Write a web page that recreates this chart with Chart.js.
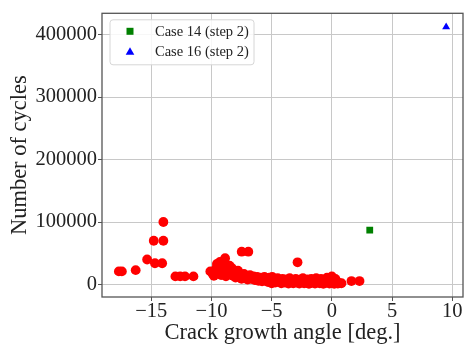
<!DOCTYPE html>
<html>
<head>
<meta charset="utf-8">
<script src="https://cdn.jsdelivr.net/npm/chart.js@4/dist/chart.umd.min.js"></script>
<style>
html,body{margin:0;padding:0;background:#fff;}
#wrap{width:474px;height:356px;}
</style>
</head>
<body>
<div id="wrap"><canvas id="c" width="474" height="356"></canvas></div>
<script>
// ---- data ----
const redAngles = [
 -17.7,-17.45,-16.3,-15.35,-14.8,-14.0,-14.0,-14.7,-14.1,-13.0,-12.6,-12.2,-11.5,-10.1,
 -9.9,-9.8,-9.7,-9.6,-9.55,-9.5,-9.4,-9.35,-9.3,-9.2,-9.15,-9.1,-9.05,-9.0,-8.95,-8.87,
 -8.8,-8.75,-8.6,-8.5,-8.45,-8.4,-8.3,-8.2,-8.1,-8.0,-7.9,-7.8,-7.7,-7.6,-7.49,-6.94,
 -7.5,-7.4,-7.3,-7.2,-7.1,-7.0,-6.9,-6.8,-6.7,-6.6,-6.5,-6.4,-6.3,-6.2,-6.1,-6.0,-5.9,
 -5.8,-5.7,-5.6,-5.5,-5.4,-5.3,-5.2,-5.1,-5.0,-4.95,-4.9,-4.8,-4.7,-4.6,-4.5,-4.4,-4.3,
 -4.2,-4.1,-4.0,-3.9,-3.8,-3.7,-3.6,-3.5,-3.4,-3.3,-3.2,-3.1,-3.0,-2.9,-2.85,-2.8,-2.7,
 -2.6,-2.5,-2.4,-2.3,-2.2,-2.1,-2.0,-1.9,-1.8,-1.7,-1.6,-1.5,-1.4,-1.3,-1.2,-1.1,-1.0,
 -0.9,-0.8,-0.7,-0.6,-0.5,-0.4,-0.3,-0.2,-0.1,0.0,0.05,0.1,0.2,0.3,0.4,0.5,0.6,0.8,1.63,2.3
];
const redCycles = [
 21000,21000,23000,40000,70000,70000,100000,34000,34000,13000,13000,13000,13000,21000,
 17000,14000,20000,26000,33000,18000,29000,23000,36000,15000,27000,21000,32000,17000,25000,42000,
 13000,20000,27000,30000,17000,23000,26000,14000,20000,11000,16000,22000,12000,15000,52500,52500,
 9000,13000,17000,10000,14000,8000,12000,15000,9000,11000,13000,7000,10000,12000,6000,9000,11000,
 5000,8000,12000,6000,9000,4000,11000,7000,2000,12000,5000,9000,3000,7000,10000,4000,6000,
 2000,9000,5000,3000,8000,6000,1500,10000,4000,7000,2000,5000,9000,3000,35500,6000,1500,
 8000,4000,10000,2000,6000,3000,8000,1000,5000,9000,3000,6000,1500,10000,4000,7000,2000,
 9000,5000,1000,7000,3000,11000,5000,1500,8000,13000,3000,6000,1000,9000,3500,1500,2500,2000,5500,5500
];
const case14Angles = [3.15];
const case14Cycles = [87000];
const case16Angles = [9.5];
const case16Cycles = [412000];
const seriesLabels = ['Case 14 (step 2)', 'Case 16 (step 2)'];
const xTickValues = [-15, -10, -5, 0, 5, 10];
const yTickValues = [0, 100000, 200000, 300000, 400000];

const toPts = (xs, ys) => xs.map((x, i) => ({x: x, y: ys[i]}));
const serif = '"Liberation Serif", "DejaVu Serif", serif';

const frameLegend = {
  id: 'frameLegend',
  afterDraw(chart) {
    const ctx = chart.ctx, a = chart.chartArea;
    ctx.save();
    // axes frame
    ctx.strokeStyle = '#555';
    ctx.lineWidth = 1.3;
    ctx.strokeRect(a.left, a.top, a.right - a.left, a.bottom - a.top);
    // legend box
    const bx = a.left + 8, by = a.top + 6.5, bw = 144, bh = 45, r = 3;
    ctx.beginPath();
    ctx.moveTo(bx + r, by);
    ctx.lineTo(bx + bw - r, by); ctx.arcTo(bx + bw, by, bx + bw, by + r, r);
    ctx.lineTo(bx + bw, by + bh - r); ctx.arcTo(bx + bw, by + bh, bx + bw - r, by + bh, r);
    ctx.lineTo(bx + r, by + bh); ctx.arcTo(bx, by + bh, bx, by + bh - r, r);
    ctx.lineTo(bx, by + r); ctx.arcTo(bx, by, bx + r, by, r);
    ctx.closePath();
    ctx.fillStyle = 'rgba(255,255,255,0.85)';
    ctx.fill();
    ctx.strokeStyle = '#d6d6d6';
    ctx.lineWidth = 1;
    ctx.stroke();
    // legend entries
    const items = [chart.data.datasets[1], chart.data.datasets[2]];
    ctx.font = '14.5px ' + serif;
    ctx.textBaseline = 'middle';
    ctx.textAlign = 'left';
    items.forEach((ds, i) => {
      const cy = by + 11.5 + i * 20.5, cx = bx + 20;
      ctx.fillStyle = ds.backgroundColor;
      ctx.beginPath();
      if (ds.pointStyle === 'rect') {
        ctx.rect(cx - 3.5, cy - 3.5, 7, 7);
      } else {
        ctx.moveTo(cx, cy - 4.5);
        ctx.lineTo(cx + 4.3, cy + 3);
        ctx.lineTo(cx - 4.3, cy + 3);
        ctx.closePath();
      }
      ctx.fill();
      ctx.fillStyle = '#222';
      ctx.fillText(ds.label, bx + 45, cy + 0.5);
    });
    ctx.restore();
  }
};

new Chart(document.getElementById('c'), {
  type: 'scatter',
  data: {
    datasets: [
      { label: 'data', data: toPts(redAngles, redCycles), backgroundColor: '#ff0000',
        borderWidth: 0, pointRadius: 4.9, pointHoverRadius: 4.9, pointStyle: 'circle' },
      { label: seriesLabels[0], data: toPts(case14Angles, case14Cycles), backgroundColor: '#008000',
        borderWidth: 0, pointRadius: 4.8, pointHoverRadius: 4.8, pointStyle: 'rect' },
      { label: seriesLabels[1], data: toPts(case16Angles, case16Cycles), backgroundColor: '#0000ff',
        borderWidth: 0, pointRadius: 4.6, pointHoverRadius: 4.6, pointStyle: 'triangle' }
    ]
  },
  options: {
    responsive: false,
    animation: false,
    layout: { padding: { left: 0, right: 11, top: 12.5, bottom: 0 } },
    plugins: { legend: { display: false }, tooltip: { enabled: false } },
    scales: {
      x: {
        type: 'linear', min: -19.1, max: 10.9,
        afterBuildTicks: s => { s.ticks = xTickValues.map(v => ({value: v})); },
        afterFit: s => { s.height = 59; },
        ticks: { font: { family: serif, size: 20.5, lineHeight: 1 }, color: '#222', padding: 0,
          callback: v => (v < 0 ? '\u2212' + Math.abs(v) : String(v)) },
        grid: { color: '#c8c8c8', lineWidth: 1, tickLength: 4, tickColor: '#555' },
        border: { display: false },
        title: { display: true, text: 'Crack growth angle [deg.]', color: '#222',
          font: { family: serif, size: 22.5 }, padding: { top: 0, bottom: 9 } }
      },
      y: {
        type: 'linear', min: -20000, max: 434000,
        afterBuildTicks: s => { s.ticks = yTickValues.map(v => ({value: v})); },
        afterFit: s => { s.width = 102; },
        ticks: { font: { family: serif, size: 20.5 }, color: '#222', padding: 1,
          callback: v => String(v) },
        grid: { color: '#c8c8c8', lineWidth: 1, tickLength: 4, tickColor: '#555' },
        border: { display: false },
        title: { display: true, text: 'Number of cycles', color: '#222',
          font: { family: serif, size: 22.5 }, padding: { top: 7, bottom: 0 } }
      }
    }
  },
  plugins: [frameLegend]
});
</script>
</body>
</html>
